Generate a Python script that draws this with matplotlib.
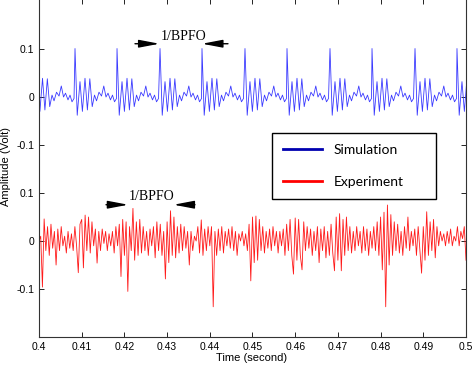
import matplotlib
matplotlib.use('Agg')
import matplotlib.pyplot as plt

# simulated signal: spike times (s), one period shape (ms after spike, V)
sim_spikes = [0.39848, 0.40843, 0.41827, 0.42834, 0.43817, 0.44824,
              0.45808, 0.46815, 0.47799, 0.48806, 0.49789]
shape_ms = [0.0, 0.52, 1.17, 1.73, 2.34, 2.90, 3.47, 4.03, 4.57, 5.04,
            5.62, 6.21, 6.74, 7.26, 7.73, 8.31, 8.78, 9.25, 9.72]
shape_v = [0.101, -0.038, 0.032, -0.030, 0.039, -0.027, 0.038, -0.020, 0.004, -0.008,
           0.010, 0.002, 0.023, 0.000, 0.008, -0.006, 0.004, -0.010, -0.003]
sim_offset = 0.3

# experiment signal, sampled every 0.4 ms from 0.4 s
exp_t0 = 0.4
exp_dt = 0.0004
exp_v = [0.0, 0.01, -0.096, 0.046, -0.02, 0.03, -0.03, 0.035, -0.015, 0.02,
         -0.05, 0.025, -0.02, 0.03, -0.01, 0.01, -0.025, 0.02, -0.015, 0.015,
         -0.02, 0.03, -0.01, -0.066, 0.035, 0.045, -0.056, 0.054, -0.02, 0.05,
         -0.025, 0.04, -0.01, 0.025, -0.046, 0.02, -0.02, 0.025, -0.005, 0.02,
         -0.02, 0.015, -0.01, 0.02, -0.025, 0.03, -0.01, 0.035, -0.074, 0.045,
         -0.03, 0.04, -0.105, 0.03, -0.02, 0.068, -0.04, 0.04, -0.03, 0.045,
         -0.025, 0.03, -0.02, 0.02, -0.03, 0.025, -0.01, 0.03, -0.035, 0.04,
         -0.02, 0.035, -0.03, 0.02, -0.079, 0.04, -0.045, 0.063, -0.03, 0.05,
         -0.035, 0.03, -0.025, 0.035, -0.02, 0.03, -0.015, 0.02, -0.05, 0.02,
         -0.02, 0.01, 0.0, 0.03, -0.025, 0.044, -0.03, 0.025, -0.02, 0.03,
         -0.01, 0.03, -0.137, 0.02, -0.03, 0.025, -0.02, 0.03, -0.025, 0.02,
         -0.01, 0.025, -0.015, 0.03, -0.02, 0.02, -0.03, 0.015, 0.0, 0.02,
         -0.01, 0.015, -0.02, 0.035, -0.083, 0.05, -0.045, 0.052, -0.04, 0.045,
         -0.02, 0.03, -0.025, 0.02, -0.015, 0.025, -0.02, 0.03, -0.01, 0.02,
         -0.025, 0.02, -0.01, 0.025, -0.03, 0.035, -0.02, 0.045, -0.03, -0.069,
         0.048, -0.04, 0.045, -0.03, -0.06, 0.04, -0.02, 0.03, -0.015, 0.025,
         -0.03, 0.02, -0.02, 0.03, -0.045, 0.025, -0.02, 0.03, -0.035, 0.02,
         -0.03, 0.035, -0.025, -0.062, 0.05, -0.04, 0.057, -0.062, 0.045, -0.03,
         0.05, -0.02, 0.03, -0.025, 0.02, -0.02, 0.03, -0.01, 0.02, -0.025,
         0.03, -0.02, 0.025, -0.03, 0.02, -0.015, 0.03, -0.02, 0.04, -0.03,
         0.05, -0.06, 0.06, -0.137, 0.075, -0.05, 0.055, -0.03, 0.04, -0.02,
         0.035, -0.025, 0.02, -0.03, 0.03, -0.015, 0.05, -0.02, 0.02, -0.01,
         0.025, -0.03, 0.03, -0.02, -0.067, 0.03, -0.04, 0.061, -0.03, 0.04,
         -0.02, 0.045, -0.035, 0.03, -0.01, 0.02, 0.0, 0.015, -0.01, 0.02,
         -0.005, 0.025, -0.01, 0.01, 0.0, 0.03, -0.01, 0.02, 0.005, 0.03, -0.04]

xticks = [0.4, 0.41, 0.42, 0.43, 0.44, 0.45, 0.46, 0.47, 0.48, 0.49, 0.5]
yticks = [-0.1, 0.0, 0.1, 0.2, 0.3, 0.4]
ytick_labels = ['-0.1', '0', '0.1', '-0.1', '0', '0.1']


def main():
    sim_t = []
    sim_v = []
    for s in sim_spikes:
        for o, v in zip(shape_ms, shape_v):
            sim_t.append(s + o / 1000)
            sim_v.append(v + sim_offset)
    exp_t = [exp_t0 + i * exp_dt for i in range(len(exp_v))]

    fig = plt.figure(figsize=(4.74, 3.66), dpi=100)
    ax = fig.add_axes([0.0823, 0.0792, 0.9008, 0.9246])
    ax.plot(sim_t, sim_v, color='#3a3aff', lw=0.6)
    ax.plot(exp_t, exp_v, color='#ff1a1a', lw=0.6)
    ax.set_xlim(0.4, 0.5)
    ax.set_ylim(-0.2, 0.505)

    ax.set_xticks(xticks)
    ax.set_xticklabels(['0.4', '0.41', '0.42', '0.43', '0.44', '0.45',
                        '0.46', '0.47', '0.48', '0.49', '0.5'])
    ax.set_yticks(yticks)
    ax.set_yticklabels(ytick_labels)
    ax.tick_params(direction='in', length=3.5, top=True, right=True,
                   labelsize=7.5, pad=3.5, width=0.6)
    for lab in ax.get_xticklabels() + ax.get_yticklabels():
        lab.set_family('Liberation Sans')
    for sp in ax.spines.values():
        sp.set_linewidth(0.8)
        sp.set_color('#333333')

    fig.text(6 / 474, 1 - 167 / 366, 'Amplitude (Volt)', rotation=90,
             ha='center', va='center', fontsize=8, family='Liberation Sans')
    fig.text(252 / 474, 1 - 358 / 366, 'Time (second)', ha='center',
             va='center', fontsize=8, family='Liberation Sans')

    arrow = dict(arrowstyle='-|>,head_length=0.95,head_width=0.18',
                 color='black', lw=1.0, mutation_scale=13, shrinkA=0, shrinkB=0)
    ax.annotate('', xy=(0.42822, 0.411), xytext=(0.42248, 0.411), arrowprops=arrow)
    ax.annotate('', xy=(0.43817, 0.411), xytext=(0.44426, 0.411), arrowprops=arrow)
    ax.text(0.43384, 0.4256, '1/BPFO', ha='center', va='center',
            fontsize=10, family='Liberation Serif')
    ax.annotate('', xy=(0.42091, 0.0756), xytext=(0.41569, 0.0756), arrowprops=arrow)
    ax.annotate('', xy=(0.43150, 0.0756), xytext=(0.43653, 0.0756), arrowprops=arrow)
    ax.text(0.42646, 0.0933, '1/BPFO', ha='center', va='center',
            fontsize=10, family='Liberation Serif')

    h1, = ax.plot([], [], color='#0000b0', lw=2, label='Simulation')
    h2, = ax.plot([], [], color='#ff0000', lw=2, label='Experiment')
    leg = ax.legend(handles=[h1, h2], loc='upper left',
                    bbox_to_anchor=(0.5457, 0.4108, 0.384, 0.192), mode='expand',
                    borderaxespad=0, fancybox=False, edgecolor='black',
                    prop={'family': 'Lato', 'size': 10}, handlelength=2.8,
                    handletextpad=0.85, borderpad=0.8, labelspacing=1.45,
                    framealpha=1)
    leg.get_frame().set_linewidth(1.0)

    fig.savefig('out.png', dpi=100)


if __name__ == '__main__':
    main()
